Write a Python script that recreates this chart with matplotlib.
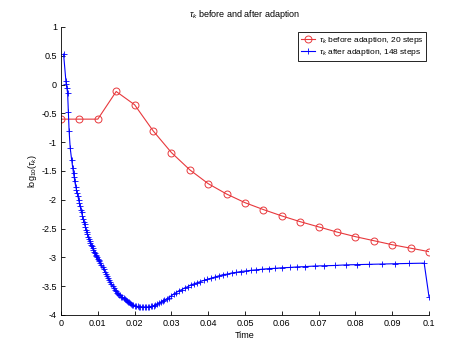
import matplotlib
matplotlib.use("Agg")
import matplotlib.pyplot as plt

# data

t_before = [0.0, 0.005, 0.01, 0.015, 0.02, 0.025, 0.03, 0.035, 0.04, 0.045, 0.05,
            0.055, 0.06, 0.065, 0.07, 0.075, 0.08, 0.085, 0.09, 0.095, 0.1]
tau_before = [-0.6, -0.6, -0.6, -0.12, -0.35, -0.8, -1.18, -1.48, -1.72, -1.9, -2.05,
              -2.17, -2.28, -2.38, -2.47, -2.56, -2.64, -2.71, -2.78, -2.84, -2.9]

t_after = [
    0.0007, 0.0013, 0.0014, 0.0016, 0.0018, 0.0020, 0.0022, 0.0025, 0.0029, 0.0032,
    0.0034, 0.0036, 0.0037, 0.0040,
    0.0042, 0.0044, 0.0046, 0.0048, 0.0050, 0.0052, 0.0054, 0.0056, 0.0058, 0.0060,
    0.0062, 0.0064, 0.0066, 0.0068, 0.0070, 0.0072, 0.0074, 0.0076, 0.0078, 0.0080,
    0.0082, 0.0084, 0.0086, 0.0088, 0.0090, 0.0092, 0.0094, 0.0096, 0.0098, 0.0100,
    0.0102, 0.0104,
    0.0107, 0.0110, 0.0113, 0.0116, 0.0119, 0.0122, 0.0125, 0.0128, 0.0131, 0.0134,
    0.0137, 0.0140, 0.0143, 0.0146, 0.0149,
    0.0152, 0.0155, 0.0158, 0.0161, 0.0164, 0.0167, 0.0170, 0.0173, 0.0176, 0.0179,
    0.0182, 0.0185, 0.0188, 0.0191, 0.0194, 0.0197, 0.0200,
    0.0204, 0.0208, 0.0212, 0.0216, 0.0220, 0.0224, 0.0228, 0.0232, 0.0236, 0.0240,
    0.0244, 0.0248, 0.0252,
    0.0256, 0.0261, 0.0266, 0.0271, 0.0276, 0.0281, 0.0287, 0.0293, 0.0299, 0.0306,
    0.0313, 0.0320, 0.0328, 0.0336, 0.0344, 0.0352, 0.0361, 0.0370, 0.0379, 0.0388,
    0.0398, 0.0408, 0.0418, 0.0429, 0.0440, 0.0452, 0.0464, 0.0476, 0.0489, 0.0502,
    0.0516, 0.0531, 0.0547, 0.0564, 0.0582, 0.0601, 0.0621, 0.0642, 0.0664, 0.0689,
    0.0715, 0.0745, 0.0774, 0.0805, 0.0838, 0.0871, 0.0908, 0.0946, 0.0987, 0.1000,
]
tau_after = [
    0.53, 0.07, 0.01, -0.06, -0.15, -0.48, -0.80, -1.10, -1.31, -1.45,
    -1.54, -1.61, -1.67, -1.77,
    -1.83, -1.89, -1.94, -2.00, -2.06, -2.11, -2.17, -2.22, -2.28, -2.33,
    -2.38, -2.42, -2.47, -2.52, -2.56, -2.60, -2.64, -2.68, -2.72, -2.75,
    -2.78, -2.81, -2.84, -2.87, -2.90, -2.93, -2.95, -2.98, -3.00, -3.02,
    -3.04, -3.06,
    -3.10, -3.14, -3.17, -3.21, -3.25, -3.28, -3.32, -3.36, -3.39, -3.43,
    -3.46, -3.49, -3.53, -3.56, -3.59,
    -3.61, -3.63, -3.65, -3.66, -3.68, -3.69, -3.71, -3.72, -3.74, -3.75,
    -3.77, -3.78, -3.80, -3.81, -3.82, -3.83, -3.84,
    -3.85, -3.85, -3.86, -3.86, -3.86, -3.86, -3.86, -3.86, -3.86, -3.86,
    -3.85, -3.85, -3.84,
    -3.83, -3.81, -3.79, -3.78, -3.76, -3.74, -3.72, -3.70, -3.67, -3.64,
    -3.61, -3.58, -3.56, -3.53, -3.51, -3.48, -3.46, -3.44, -3.42, -3.40,
    -3.38, -3.36, -3.34, -3.32, -3.30, -3.29, -3.27, -3.26, -3.245, -3.235,
    -3.225, -3.215, -3.205, -3.195, -3.19, -3.18, -3.175, -3.165, -3.16, -3.15,
    -3.145, -3.14, -3.13, -3.125, -3.12, -3.115, -3.11, -3.105, -3.10, -3.68,
]

x_ticks = [0, 0.01, 0.02, 0.03, 0.04, 0.05, 0.06, 0.07, 0.08, 0.09, 0.1]
x_labels = ["0", "0.01", "0.02", "0.03", "0.04", "0.05", "0.06", "0.07", "0.08", "0.09", "0.1"]
y_ticks = [-4, -3.5, -3, -2.5, -2, -1.5, -1, -0.5, 0, 0.5, 1]
y_labels = ["-4", "-3.5", "-3", "-2.5", "-2", "-1.5", "-1", "-0.5", "0", "0.5", "1"]

plt.rcParams["font.family"] = ["Liberation Sans", "DejaVu Sans"]
plt.rcParams["mathtext.fontset"] = "custom"
plt.rcParams["mathtext.rm"] = "Liberation Sans"
plt.rcParams["mathtext.it"] = "Liberation Sans:italic"

fig = plt.figure(figsize=(4.74, 3.55), dpi=100)
ax = fig.add_axes([0.1287, 0.1127, 0.7763, 0.8113])

ax.plot(t_before, tau_before, color="#e8383c", lw=0.8, marker="o", ms=5,
        mfc="none", mew=0.7, label=r"$\tau_k$ before adaption, 20 steps")
ax.plot(t_after, tau_after, color="#0000ff", lw=0.8, marker="+", ms=4.5,
        mew=0.6, label=r"$\tau_k$ after adaption, 148 steps")

ax.set_xlim(0, 0.1)
ax.set_ylim(-4, 1)
ax.set_xticks(x_ticks)
ax.set_xticklabels(x_labels)
ax.set_yticks(y_ticks)
ax.set_yticklabels(y_labels)
ax.tick_params(direction="in", length=3, width=0.6, labelsize=6.5, pad=3)
ax.spines["top"].set_visible(False)
ax.spines["right"].set_visible(False)
for s in ["left", "bottom"]:
    ax.spines[s].set_linewidth(0.6)

ax.set_title(r"$\tau_k$ before and after adaption", fontsize=6.5, pad=7)
ax.set_xlabel("Time", fontsize=6.5, labelpad=2)
ax.set_ylabel(r"log$_{10}$($\tau_k$)", fontsize=6.5, labelpad=2)

leg = ax.legend(loc="upper right", bbox_to_anchor=(1.0, 0.99), fontsize=6,
                fancybox=False, edgecolor="black", framealpha=1,
                handlelength=1.7, handletextpad=0.5, borderpad=0.3,
                labelspacing=0.15, borderaxespad=0.3)
leg.get_frame().set_linewidth(0.6)

plt.savefig("out.png", dpi=100)
